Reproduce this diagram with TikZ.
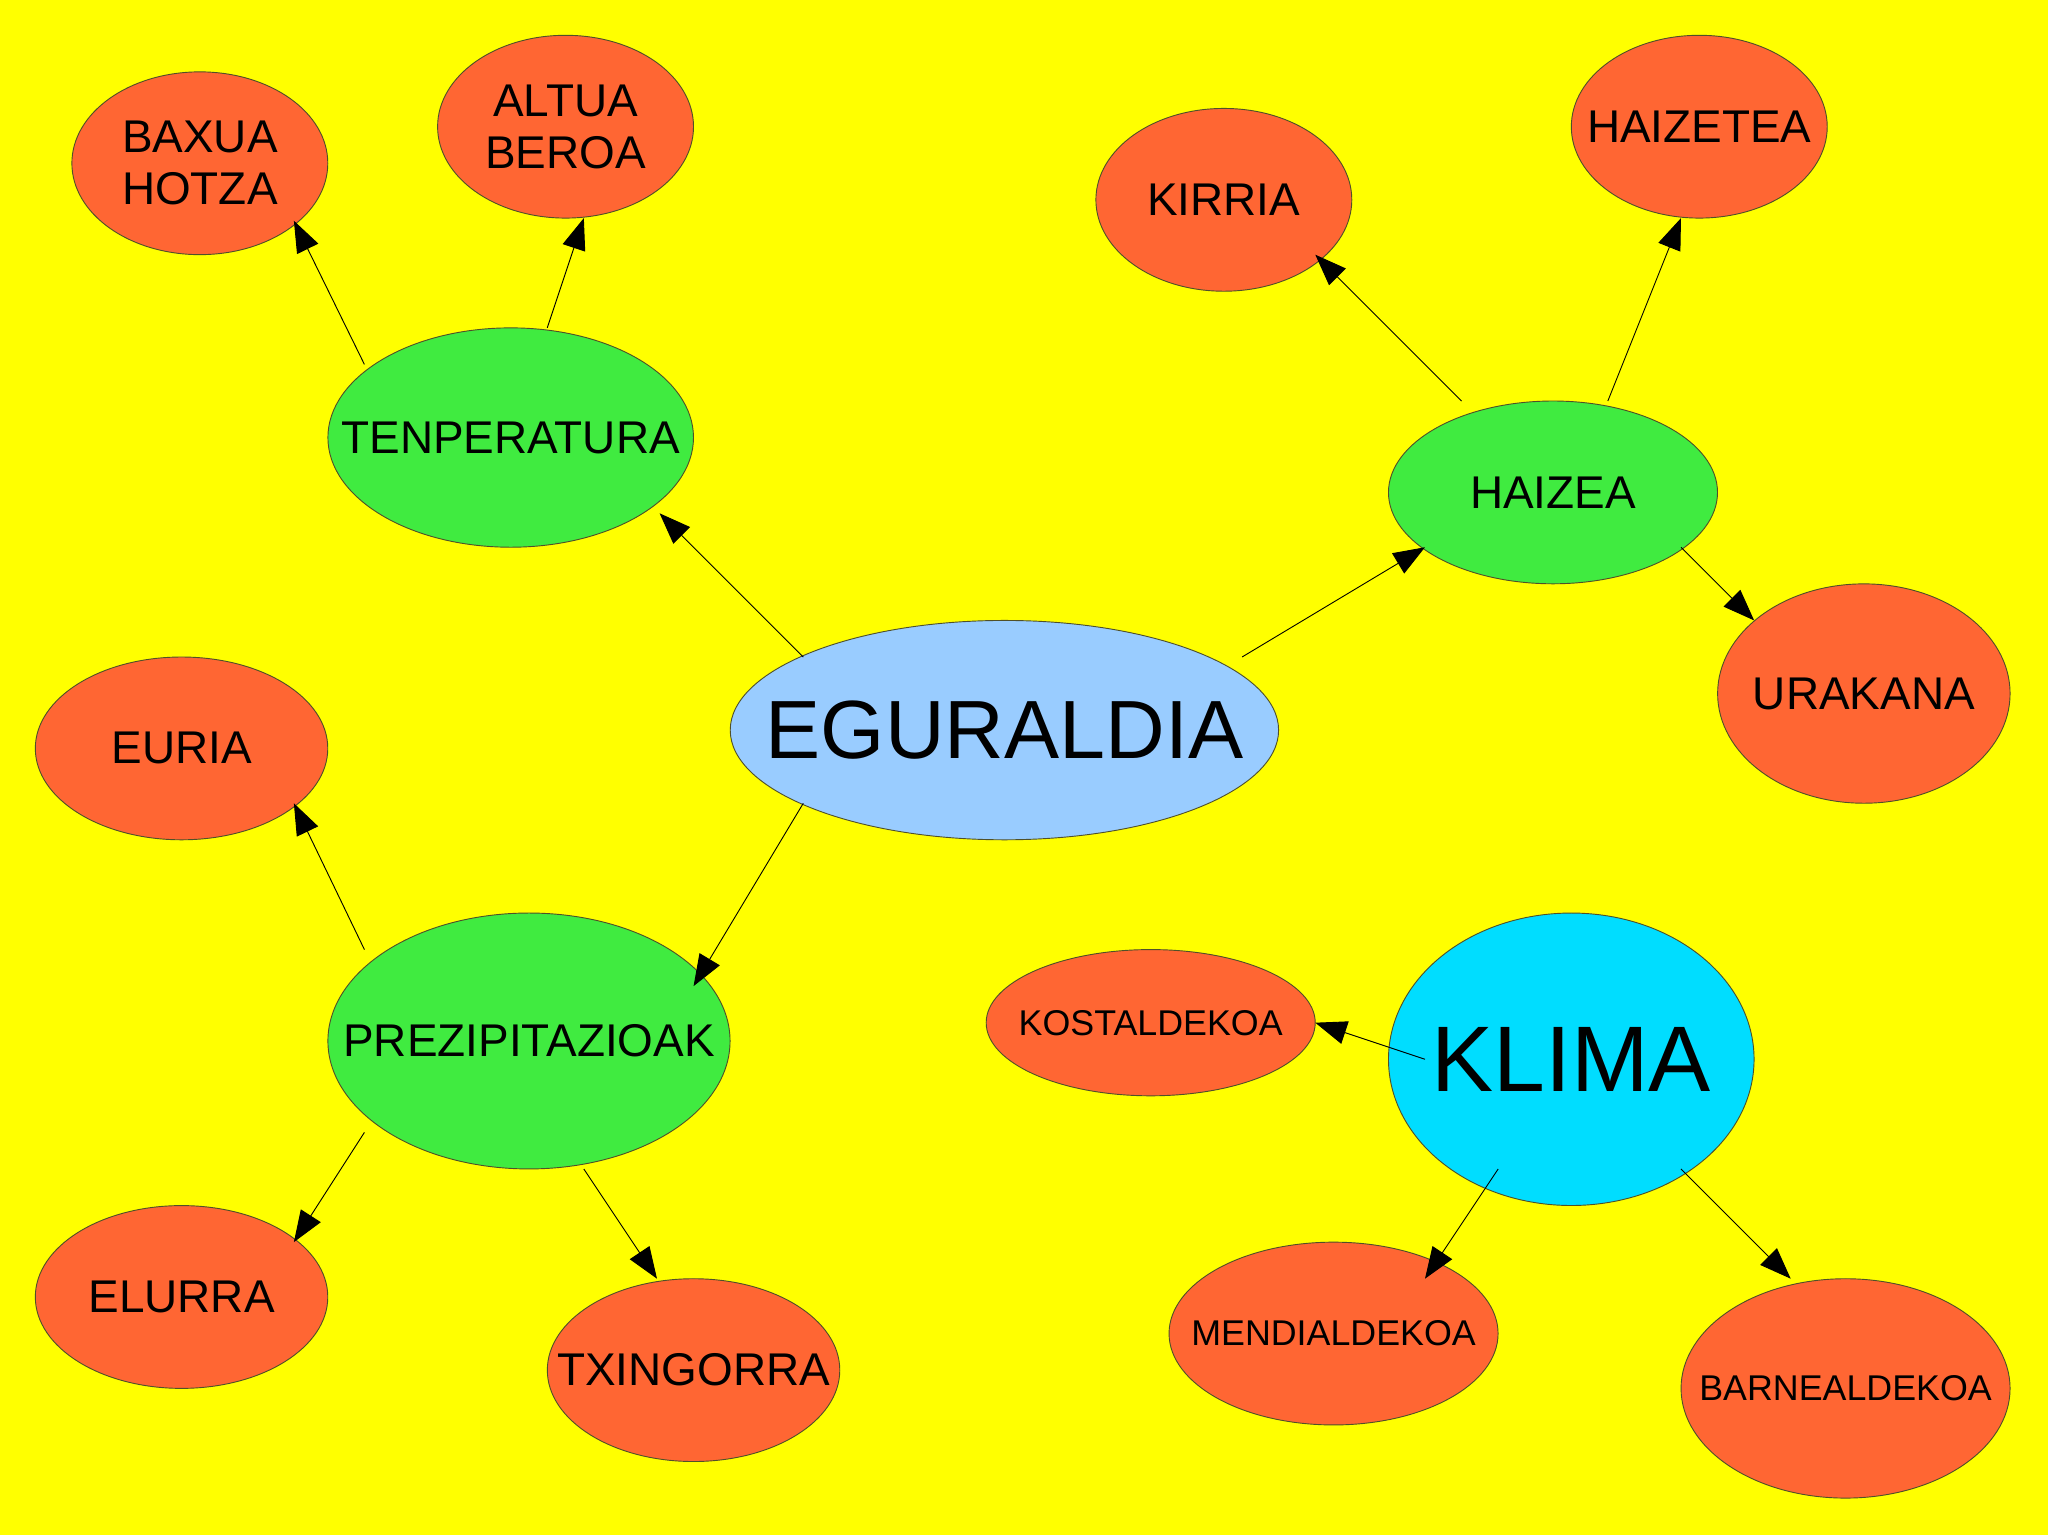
\documentclass[tikz,border=0pt]{standalone}
\usepackage{fontspec}
\setmainfont{Liberation Sans}
\usetikzlibrary{arrows.meta,shapes.geometric}
\definecolor{bgy}{RGB}{255,255,0}
\definecolor{orn}{RGB}{255,102,51}
\definecolor{grn}{RGB}{64,235,64}
\definecolor{lbl}{RGB}{153,204,255}
\definecolor{cyn}{RGB}{0,221,255}
\definecolor{rim}{RGB}{80,80,40}
\begin{document}
\begin{tikzpicture}[x=0.02cm,y=-0.02cm,
  blob/.style n args={2}{ellipse,draw=rim,line width=0.4pt,inner sep=0pt,
    minimum width=#1*0.04cm,minimum height=#2*0.04cm},
  txt/.style={inner sep=0pt,align=center,text=black},
  big/.style={txt,font=\fontsize{20}{22.8}\selectfont},
  small/.style={txt,font=\fontsize{15.6}{18}\selectfont},
  link/.style={draw=black,line width=0.4pt,-{Triangle[length=0.48cm,width=0.36cm]}}]
\fill[bgy] (0,0) rectangle (1568,1175);
\useasboundingbox (0,0) rectangle (1568,1175);
% central
\node[blob={210}{84},fill=lbl,label={[txt,font=\fontsize{36}{40}\selectfont]center:EGURALDIA}] (egu) at (769,559) {};
\node[blob={140}{112},fill=cyn,label={[txt,font=\fontsize{40.6}{45}\selectfont]center:KLIMA}] (kli) at (1203,811) {};
% middle
\node[blob={140}{84},fill=grn,label={[txt,font=\fontsize{20}{22.8}\selectfont]center:TENPERATURA}] (ten) at (391,335) {};
\node[blob={126}{70},fill=grn,label={[big]center:HAIZEA}] (hai) at (1189,377) {};
\node[blob={154}{98},fill=grn,label={[big]center:PREZIPITAZIOAK}] (pre) at (405,797) {};
% leaves
\node[blob={98}{70},fill=orn,label={[big]center:{BAXUA\\HOTZA}}] (bax) at (153,125) {};
\node[blob={98}{70},fill=orn,label={[big]center:{ALTUA\\BEROA}}] (alt) at (433,97) {};
\node[blob={98}{70},fill=orn,label={[big]center:KIRRIA}] (kir) at (937,153) {};
\node[blob={98}{70},fill=orn,label={[big]center:HAIZETEA}] (hzt) at (1301,97) {};
\node[blob={112}{84},fill=orn,label={[big]center:URAKANA}] (ura) at (1427,531) {};
\node[blob={112}{70},fill=orn,label={[big]center:EURIA}] (eur) at (139,573) {};
\node[blob={112}{70},fill=orn,label={[big]center:ELURRA}] (elu) at (139,993) {};
\node[blob={112}{70},fill=orn,label={[big]center:TXINGORRA}] (txi) at (531,1049) {};
\node[blob={126}{56},fill=orn,label={[small]center:KOSTALDEKOA}] (kos) at (881,783) {};
\node[blob={126}{70},fill=orn,label={[small]center:MENDIALDEKOA}] (men) at (1021,1021) {};
\node[blob={126}{84},fill=orn,label={[small]center:BARNEALDEKOA}] (bar) at (1413,1063) {};
% connectors
\draw[link] ([shift={(-154,-56)}]egu.center) -- ([shift={(114,58)}]ten.center);
\draw[link] ([shift={(-112,-56)}]ten.center) -- ([shift={(72,44)}]bax.center);
\draw[link] ([shift={(28,-84)}]ten.center) -- ([shift={(14,70)}]alt.center);
\draw[link] ([shift={(182,-56)}]egu.center) -- ([shift={(-98,42)}]hai.center);
\draw[link] ([shift={(-70,-70)}]hai.center) -- ([shift={(70,42)}]kir.center);
\draw[link] ([shift={(42,-70)}]hai.center) -- ([shift={(-14,70)}]hzt.center);
\draw[link] ([shift={(98,42)}]hai.center) -- ([shift={(-84,-56)}]ura.center);
\draw[link] ([shift={(-154,56)}]egu.center) -- ([shift={(126,-42)}]pre.center);
\draw[link] ([shift={(-126,-70)}]pre.center) -- ([shift={(86,42)}]eur.center);
\draw[link] ([shift={(-126,70)}]pre.center) -- ([shift={(86,-42)}]elu.center);
\draw[link] ([shift={(42,98)}]pre.center) -- ([shift={(-28,-70)}]txi.center);
\draw[link] ([shift={(-112,0)}]kli.center) -- ([shift={(126,0)}]kos.center);
\draw[link] ([shift={(-56,84)}]kli.center) -- ([shift={(70,-42)}]men.center);
\draw[link] ([shift={(84,84)}]kli.center) -- ([shift={(-42,-84)}]bar.center);
\end{tikzpicture}
\end{document}
